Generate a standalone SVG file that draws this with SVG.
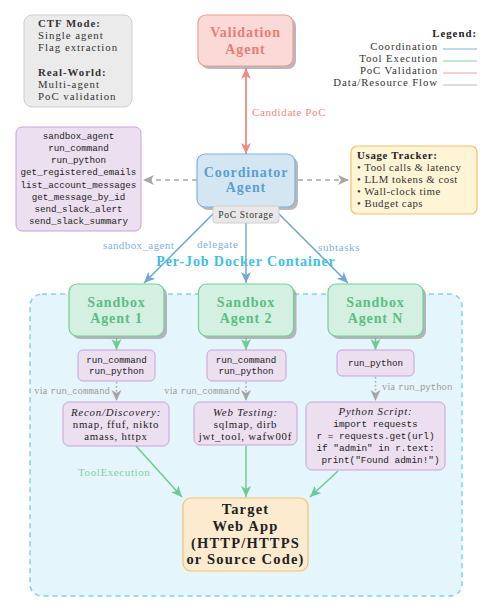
<svg xmlns="http://www.w3.org/2000/svg" width="498" height="612" viewBox="0 0 498 612">
<style>
text{font-family:"Liberation Serif","Times New Roman",serif;}
.body{font-size:10.8px;letter-spacing:1px;fill:#333;}
.bold{font-weight:bold;}
.title{font-size:14px;font-weight:bold;letter-spacing:0.9px;text-anchor:middle;}
.mono{font-family:"Liberation Mono","Courier New",monospace;font-size:9.2px;fill:#222;text-anchor:middle;}
.lbl{font-size:11px;letter-spacing:0.6px;}
.via{font-size:10px;fill:#9a9a9a;letter-spacing:0.4px;}
.viam{font-family:"Liberation Mono","Courier New",monospace;font-size:9px;letter-spacing:0;}
.box{font-size:10.8px;letter-spacing:0.8px;fill:#222;text-anchor:middle;}
.purple{fill:#ecdff0;stroke:#c9a2d9;stroke-width:1;}
.green{fill:#d3f0e0;stroke:#72cf98;stroke-width:1.2;}
.shadow{fill:#9a9a9a;opacity:0.7;}
.blue{stroke:#6fa8d6;stroke-width:1.5;fill:none;}
.gr{stroke:#6ccb93;stroke-width:1.5;fill:none;}
.dot{stroke:#a6a6a6;stroke-width:1.5;fill:none;stroke-dasharray:1.5 2.5;}
.dash{stroke:#a6a6a6;stroke-width:1.3;fill:none;stroke-dasharray:5 4;}
</style>
<defs>
<marker id="ab" markerUnits="userSpaceOnUse" markerWidth="12" markerHeight="12" viewBox="0 0 12 12" refX="11" refY="6" orient="auto"><path d="M0,1 L11,6 L0,11 L3,6 z" fill="#6fa8d6"/></marker>
<marker id="ag" markerUnits="userSpaceOnUse" markerWidth="12" markerHeight="12" viewBox="0 0 12 12" refX="11" refY="6" orient="auto"><path d="M0,1 L11,6 L0,11 L3,6 z" fill="#6ccb93"/></marker>
<marker id="ar" markerUnits="userSpaceOnUse" markerWidth="12" markerHeight="12" viewBox="0 0 12 12" refX="11" refY="6" orient="auto-start-reverse"><path d="M0,1 L11,6 L0,11 L3,6 z" fill="#ef8a80"/></marker>
<marker id="ay" markerUnits="userSpaceOnUse" markerWidth="12" markerHeight="12" viewBox="0 0 12 12" refX="11" refY="6" orient="auto"><path d="M0,1 L11,6 L0,11 L3,6 z" fill="#a6a6a6"/></marker>
</defs>

<!-- Container background -->
<g id="container">
<rect x="30" y="294" width="432" height="302" rx="12" fill="#e4f5fb" stroke="#7dd4f2" stroke-width="1.5" stroke-dasharray="5 4"/>
<text x="246" y="266" text-anchor="middle" style="font-size:14px;font-weight:bold;letter-spacing:0.9px;fill:#3dbfe8">Per-Job Docker Container</text>
</g>

<!-- Mode box -->
<g id="mode">
<rect x="24" y="15" width="108" height="92" rx="8" fill="#ebebeb" stroke="#cfcfcf"/>
<text class="body bold" x="38" y="27">CTF Mode:</text>
<text class="body" x="38" y="39">Single agent</text>
<text class="body" x="38" y="51">Flag extraction</text>
<text class="body bold" x="38" y="76">Real-World:</text>
<text class="body" x="38" y="88">Multi-agent</text>
<text class="body" x="38" y="100">PoC validation</text>
</g>

<!-- Legend -->
<g id="legend">
<text class="body bold" x="477" y="37" text-anchor="end" style="fill:#222">Legend:</text>
<text class="body" x="438" y="50" text-anchor="end" style="letter-spacing:0.9px">Coordination</text>
<text class="body" x="438" y="62" text-anchor="end" style="letter-spacing:0.9px">Tool Execution</text>
<text class="body" x="438" y="74" text-anchor="end" style="letter-spacing:0.9px">PoC Validation</text>
<text class="body" x="438" y="86" text-anchor="end" style="letter-spacing:0.9px">Data/Resource Flow</text>
<line x1="443" y1="49" x2="477" y2="49" stroke="#7fb3d8" stroke-width="1"/>
<line x1="443" y1="61" x2="477" y2="61" stroke="#7fd3a0" stroke-width="1"/>
<line x1="443" y1="73" x2="477" y2="73" stroke="#f0a0a0" stroke-width="1"/>
<line x1="443" y1="85" x2="477" y2="85" stroke="#bbbbbb" stroke-width="1"/>
</g>

<!-- Connectors -->
<g id="connectors">
<line x1="246" y1="68" x2="246" y2="154" stroke="#ef8a80" stroke-width="1.8" marker-start="url(#ar)" marker-end="url(#ar)"/>
<text class="lbl" x="252" y="116" style="fill:#ef8a80">Candidate PoC</text>
<line class="dash" x1="197" y1="180" x2="143" y2="180" marker-end="url(#ay)"/>
<line class="dash" x1="298" y1="180" x2="349" y2="180" marker-end="url(#ay)"/>
<line class="blue" x1="220" y1="207" x2="144" y2="283" marker-end="url(#ab)"/>
<line class="blue" x1="246" y1="207" x2="246" y2="283" marker-end="url(#ab)"/>
<line class="blue" x1="272" y1="207" x2="348" y2="283" marker-end="url(#ab)"/>
<text class="lbl" x="103" y="249" style="fill:#7ab3e0;letter-spacing:0.4px">sandbox_agent</text>
<text class="lbl" x="197" y="248" style="fill:#7ab3e0">delegate</text>
<text class="lbl" x="318" y="251" style="fill:#7ab3e0">subtasks</text>
<line class="gr" x1="116.5" y1="338" x2="116.5" y2="350" marker-end="url(#ag)"/>
<line class="gr" x1="246" y1="338" x2="246" y2="350" marker-end="url(#ag)"/>
<line class="gr" x1="375.5" y1="338" x2="375.5" y2="350" marker-end="url(#ag)"/>
<line class="dot" x1="116.5" y1="382" x2="116.5" y2="401" marker-end="url(#ay)"/>
<line class="dot" x1="246" y1="382" x2="246" y2="401" marker-end="url(#ay)"/>
<line class="dot" x1="375.5" y1="377" x2="375.5" y2="401" marker-end="url(#ay)"/>
<text class="via" x="110" y="394" text-anchor="end">via <tspan class="viam">run_command</tspan></text>
<text class="via" x="240" y="394" text-anchor="end">via <tspan class="viam">run_command</tspan></text>
<text class="via" x="382" y="390">via <tspan class="viam">run_python</tspan></text>
<line class="gr" x1="136" y1="446" x2="182" y2="497" marker-end="url(#ag)"/>
<line class="gr" x1="246" y1="446" x2="246" y2="497" marker-end="url(#ag)"/>
<line class="gr" x1="338" y1="471" x2="310" y2="497" marker-end="url(#ag)"/>
<text class="lbl" x="78" y="476" style="fill:#7dd3a3">ToolExecution</text>
</g>

<!-- Nodes -->
<g id="validation">
<rect class="shadow" x="201" y="18" width="95" height="51" rx="8"/>
<rect x="198" y="15" width="95" height="51" rx="8" fill="#fad9d6" stroke="#f19b92" stroke-width="1.2"/>
<text class="title" x="245.5" y="37" style="fill:#ea7d73">Validation</text>
<text class="title" x="245.5" y="54" style="fill:#ea7d73">Agent</text>
</g>

<g id="tools">
<rect class="purple" x="16" y="127" width="125" height="104" rx="6"/>
<text class="mono" x="78.5" y="139">sandbox_agent</text>
<text class="mono" x="78.5" y="151">run_command</text>
<text class="mono" x="78.5" y="163.3">run_python</text>
<text class="mono" x="78.5" y="175.4">get_registered_emails</text>
<text class="mono" x="78.5" y="187.6">list_account_messages</text>
<text class="mono" x="78.5" y="199.7">get_message_by_id</text>
<text class="mono" x="78.5" y="211.9">send_slack_alert</text>
<text class="mono" x="78.5" y="224">send_slack_summary</text>
</g>

<g id="coordinator">
<rect class="shadow" x="200" y="157" width="98" height="53" rx="8"/>
<rect x="197" y="154" width="98" height="53" rx="8" fill="#d5e6f3" stroke="#7bb3dd" stroke-width="1.2"/>
<text class="title" x="246" y="176.5" style="fill:#5b9fd1">Coordinator</text>
<text class="title" x="246" y="192" style="fill:#5b9fd1">Agent</text>
</g>

<g id="pocstorage">
<rect x="213" y="206" width="66" height="17" rx="3" fill="#e8e8e8" stroke="#cfcfcf"/>
<text x="246" y="217.5" text-anchor="middle" style="font-size:9.5px;letter-spacing:0.7px;fill:#333">PoC Storage</text>
</g>

<g id="usage">
<rect x="351" y="146" width="126" height="68" rx="6" fill="#fff5d6" stroke="#f7c066" stroke-width="1.2"/>
<text class="body bold" x="357" y="159" style="fill:#222;letter-spacing:0.7px">Usage Tracker:</text>
<text class="body" x="357" y="171" style="letter-spacing:0.5px">• Tool calls &amp; latency</text>
<text class="body" x="357" y="183" style="letter-spacing:0.5px">• LLM tokens &amp; cost</text>
<text class="body" x="357" y="195" style="letter-spacing:0.5px">• Wall-clock time</text>
<text class="body" x="357" y="207" style="letter-spacing:0.5px">• Budget caps</text>
</g>

<g id="agent1">
<rect class="shadow" x="72" y="287" width="95" height="52" rx="8"/>
<rect class="green" x="69" y="284" width="95" height="52" rx="8"/>
<text class="title" x="116.5" y="306.5" style="fill:#5bbd85">Sandbox</text>
<text class="title" x="116.5" y="322.5" style="fill:#5bbd85">Agent 1</text>
</g>
<g id="agent2">
<rect class="shadow" x="201.5" y="287" width="95" height="52" rx="8"/>
<rect class="green" x="198.5" y="284" width="95" height="52" rx="8"/>
<text class="title" x="246" y="306.5" style="fill:#5bbd85">Sandbox</text>
<text class="title" x="246" y="322.5" style="fill:#5bbd85">Agent 2</text>
</g>
<g id="agentN">
<rect class="shadow" x="331" y="287" width="95" height="52" rx="8"/>
<rect class="green" x="328" y="284" width="95" height="52" rx="8"/>
<text class="title" x="375.5" y="306.5" style="fill:#5bbd85">Sandbox</text>
<text class="title" x="375.5" y="322.5" style="fill:#5bbd85">Agent N</text>
</g>

<g id="tools1">
<rect class="purple" x="78" y="350" width="77" height="31" rx="5"/>
<text class="mono" x="116.5" y="362.5">run_command</text>
<text class="mono" x="116.5" y="374">run_python</text>
</g>
<g id="tools2">
<rect class="purple" x="207" y="350" width="79" height="31" rx="5"/>
<text class="mono" x="246" y="362.5">run_command</text>
<text class="mono" x="246" y="374">run_python</text>
</g>
<g id="toolsN">
<rect class="purple" x="337" y="350" width="77" height="26" rx="5"/>
<text class="mono" x="375.5" y="366">run_python</text>
</g>

<g id="recon">
<rect class="purple" x="63" y="402" width="106" height="44" rx="6"/>
<text class="box" x="116" y="415.5" style="font-style:italic">Recon/Discovery:</text>
<text class="box" x="116" y="428">nmap, ffuf, nikto</text>
<text class="box" x="116" y="440">amass, httpx</text>
</g>
<g id="webtest">
<rect class="purple" x="194" y="402" width="103" height="43" rx="6"/>
<text class="box" x="245.5" y="415.5" style="font-style:italic">Web Testing:</text>
<text class="box" x="245.5" y="428">sqlmap, dirb</text>
<text class="box" x="245.5" y="440">jwt_tool, wafw00f</text>
</g>
<g id="python">
<rect class="purple" x="306" y="402" width="139" height="68" rx="6"/>
<text class="box" x="375.5" y="414.5" style="font-style:italic">Python Script:</text>
<text class="mono" x="375.5" y="426.5" style="font-size:9.4px">import requests</text>
<text class="mono" x="375.5" y="438.7" style="font-size:9.4px">r = requests.get(url)</text>
<text class="mono" x="375.5" y="450.5" style="font-size:9.4px">if "admin" in r.text:</text>
<text class="mono" x="380.5" y="462.5" style="font-size:9.4px">print("Found admin!")</text>
</g>

<g id="target">
<rect x="183" y="498" width="125" height="73" rx="8" fill="#fdebd0" stroke="#f5c26b" stroke-width="1.2"/>
<text class="title" x="245.5" y="514" style="fill:#222;font-size:14.5px;letter-spacing:1.2px">Target</text>
<text class="title" x="245.5" y="530.5" style="fill:#222;font-size:14.5px;letter-spacing:1.2px">Web App</text>
<text class="title" x="245.5" y="547.5" style="fill:#222;font-size:14.5px;letter-spacing:1.2px">(HTTP/HTTPS</text>
<text class="title" x="245.5" y="564" style="fill:#222;font-size:14.5px;letter-spacing:1.2px">or Source Code)</text>
</g>
</svg>
